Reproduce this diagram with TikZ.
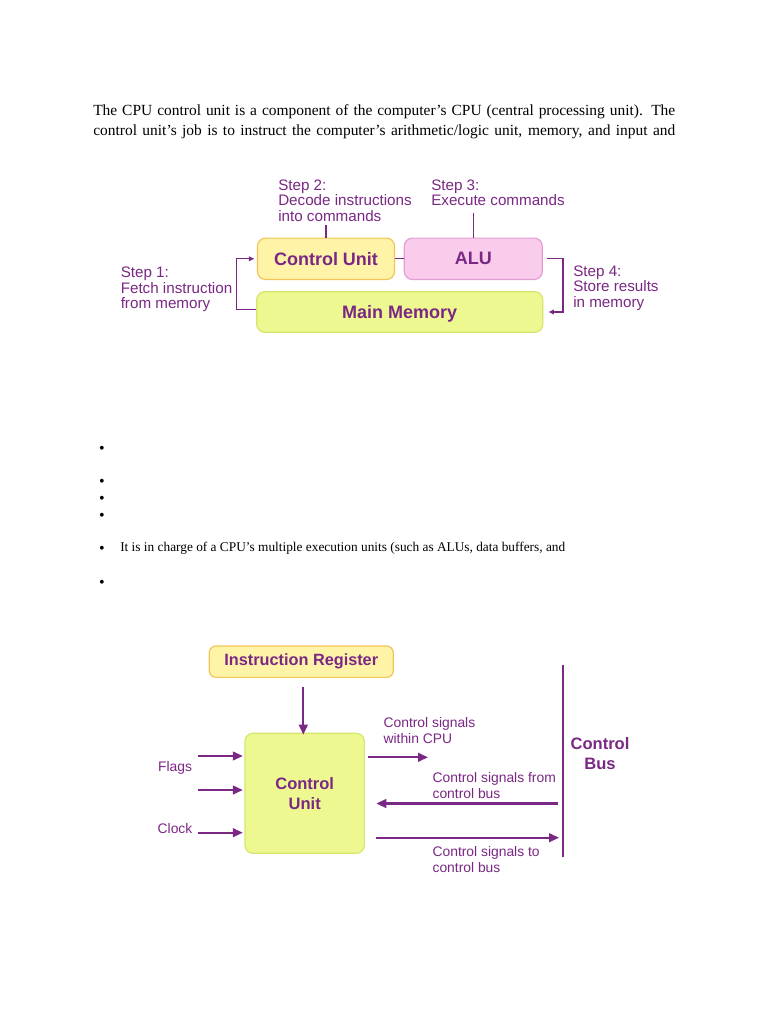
\documentclass[tikz,border=0pt]{standalone}
\usepackage{fontspec}
\setmainfont{Liberation Serif}
\newfontfamily\diagfont{Liberation Sans}
\usetikzlibrary{arrows.meta,positioning}

\definecolor{cpupurple}{RGB}{122,40,132}
\definecolor{cuyellow}{RGB}{255,243,168}
\definecolor{cuedge}{RGB}{240,198,88}
\definecolor{alupink}{RGB}{249,204,236}
\definecolor{aluedge}{RGB}{228,158,212}
\definecolor{memlime}{RGB}{238,248,145}
\definecolor{memedge}{RGB}{214,230,108}

\begin{document}
\begin{tikzpicture}[x=0.75pt,y=-0.75pt,
    blk/.style={draw,rounded corners=6pt,line width=0.9pt,inner sep=0pt,
      text=cpupurple,font=\diagfont\bfseries\fontsize{13.5}{15}\selectfont},
    steptxt/.style={anchor=west,align=left,inner sep=0pt,text=cpupurple,
      font=\diagfont\fontsize{11.4}{11.6}\selectfont},
    sigtxt/.style={anchor=west,align=left,inner sep=0pt,text=cpupurple,
      font=\diagfont\fontsize{10.4}{12}\selectfont},
    link/.style={draw=cpupurple,line width=0.9pt},
    linkarr/.style={link,-{Triangle[length=4pt,width=3.6pt]}},
    sig/.style={draw=cpupurple,line width=1.6pt,-{Triangle[length=7.5pt,width=6.5pt]}},
    bodytxt/.style={anchor=base west,inner sep=0pt,font=\fontsize{10}{15}\selectfont},
    bultxt/.style={anchor=base,inner sep=0pt,font=\fontsize{12}{12}\selectfont}]

  \fill[white] (0,0) rectangle (768,1024);
  \useasboundingbox (0,0) rectangle (768,1024);

  % text of the page
  \node[bodytxt,font=\fontsize{11.6}{15}\selectfont] (par1) at (93,115.5)
    {\makebox[436.5pt][s]{The CPU control unit is a component of the computer’s
      CPU (central processing unit). The}};
  \node[bodytxt,font=\fontsize{11.6}{15}\selectfont] (par2) at (93,135)
    {\makebox[436.5pt][s]{control unit’s job is to instruct the computer’s
      arithmetic/logic unit, memory, and input and}};
  \foreach \y [count=\i] in {447,480,497,514,547,581}
    \node[bultxt] (bul\i) at (102,\y+6.5) {•};
  \node[bodytxt] (item5) at (120,551) {It is in charge of a CPU’s multiple execution
    units (such as ALUs, data buffers, and};

  % first diagram
  \node[blk,fill=cuyellow,draw=cuedge,minimum width=102.75pt,minimum height=31pt]
    (cu) at (326,258.8) {Control Unit};
  \node[blk,fill=alupink,draw=aluedge,minimum width=103.5pt,minimum height=31pt,
    text depth=0pt] (alu) at (473.3,258.8) {ALU};
  \node[blk,fill=memlime,draw=memedge,minimum width=214.5pt,minimum height=30.5pt,
    text depth=0pt] (mem) at (399.7,312) {Main Memory};

  \node[steptxt] (s1) at (120.5,289.5) {Step 1:\\Fetch instruction\\from memory};
  \node[steptxt] (s2) at (278,200.3) {Step 2:\\Decode instructions\\into commands};
  \node[steptxt] (s3) at (431,193) {Step 3:\\Execute commands};
  \node[steptxt] (s4) at (573,288) {Step 4:\\Store results\\in memory};

  \draw[link] (cu.east) -- (alu.west);
  \draw[link] (cu.north) -- ([yshift=-3]cu.north |- s2.south);
  \draw[link] (alu.north) -- ([yshift=-5]alu.north |- s3.south);
  \draw[linkarr,shorten >=2pt] ([yshift=2]mem.west) -- ++(-20,0) |- (cu.west);
  \draw[linkarr,shorten <=3pt,shorten >=4pt] (alu.east) -- ++(20,0) |- (mem.east);

  % second diagram
  \node[blk,fill=cuyellow,draw=cuedge,rounded corners=5pt,minimum width=138pt,
    minimum height=23.5pt,font=\diagfont\bfseries\fontsize{12.2}{14}\selectfont]
    (ir) at (301.3,661.7) {Instruction Register};
  \node[blk,fill=memlime,draw=memedge,minimum width=89.5pt,minimum height=90pt,
    align=center,font=\diagfont\bfseries\fontsize{12.4}{15}\selectfont]
    (cu2) at (304.7,793.3) {Control\\Unit};

  \draw[sig,shorten <=6.5pt,shorten >=-1.5pt] ([xshift=1.5]ir.south)
    -- ([xshift=1.5]ir.south |- cu2.north);

  \coordinate (in1) at (198,756);
  \coordinate (in2) at (198,790);
  \coordinate (in3) at (198,832.7);
  \foreach \c in {in1,in2,in3}
    \draw[sig,shorten >=1.2pt] (\c) -- (cu2.west |- \c);
  \node[sigtxt,anchor=center] (flags) at (175,767.7) {Flags};
  \node[sigtxt,anchor=center] (clock) at (175,828.3) {Clock};

  \coordinate (busup) at (563.3,665);
  \coordinate (busdown) at (563.3,856.7);
  \draw[link,line width=1.6pt] (busup) -- (busdown);
  \node[blk,draw=none,align=center,font=\diagfont\bfseries\fontsize{12.4}{15}\selectfont]
    (busname) at (600,753.7) {Control\\Bus};

  \coordinate (within) at (428,757.3);
  \draw[sig,shorten <=2.2pt] (cu2.east |- within) -- (within);
  \node[sigtxt] (within lbl) at (383.3,731) {Control signals\\within CPU};

  \draw[sig,shorten <=3.8pt,shorten >=8.5pt] (busup |- 0,803.5) -- (cu2.east |- 0,803.5);
  \node[sigtxt] (from lbl) at (432.3,786) {Control signals from\\control bus};

  \draw[sig,shorten <=8.5pt,shorten >=3.2pt] (cu2.east |- 0,837.7) -- (busup |- 0,837.7);
  \node[sigtxt] (to lbl) at (432.3,860) {Control signals to\\control bus};

\end{tikzpicture}
\end{document}
